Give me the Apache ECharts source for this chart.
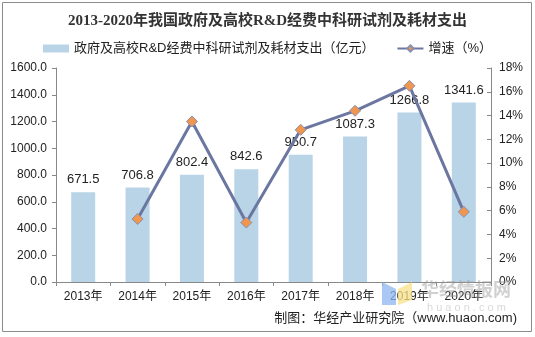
<!DOCTYPE html>
<html><head><meta charset="utf-8">
<script src="https://cdn.jsdelivr.net/npm/echarts@6/dist/echarts.min.js"></script>
<style>html,body{margin:0;padding:0;background:#fff}#c{width:535px;height:337px}</style>
</head><body><div id="c"></div>
<script>
const years = ['2013年','2014年','2015年','2016年','2017年','2018年','2019年','2020年'];
const spending = [671.5, 706.8, 802.4, 842.6, 950.7, 1087.3, 1266.8, 1341.6];
const growth = [null, 5.3, 13.5, 5.0, 12.8, 14.4, 16.5, 5.9];
const barName = '政府及高校R&D经费中科研试剂及耗材支出（亿元）';
const lineName = '增速（%）';
const titleText = '2013-2020年我国政府及高校R&D经费中科研试剂及耗材支出';
const sourceText = '制图：华经产业研究院（www.huaon.com)';

const chart = echarts.init(document.getElementById('c'), null, {renderer:'canvas'});
const axisCol = '#888';
const txt = '#222';
const sans = '"Liberation Sans","Noto Sans CJK SC",sans-serif';
chart.setOption({
  animation:false,
  backgroundColor:'#fff',
  title:{text:titleText,left:'center',top:9,textStyle:{fontFamily:'"Liberation Serif","Noto Sans CJK SC",serif',fontWeight:'bold',fontSize:15,color:'#333'}},
  legend:{top:37,left:'center',itemGap:22,itemWidth:26,itemHeight:8,textStyle:{fontFamily:sans,fontSize:13,color:txt},
    data:[{name:barName,icon:'rect'},{name:lineName}]},
  grid:{left:56,right:44,top:68,bottom:55},
  xAxis:{type:'category',data:years,boundaryGap:true,
    axisLine:{lineStyle:{color:axisCol}},axisTick:{show:true,length:4,lineStyle:{color:axisCol}},
    axisLabel:{fontFamily:sans,fontSize:12,color:txt,margin:9}},
  yAxis:[
    {type:'value',min:0,max:1600,interval:200,splitLine:{show:false},
     axisLine:{show:true,lineStyle:{color:axisCol}},axisTick:{show:true,length:4,lineStyle:{color:axisCol}},
     axisLabel:{fontFamily:sans,fontSize:12,color:txt,margin:9,formatter:v=>v.toFixed(1)}},
    {type:'value',min:0,max:18,interval:2,splitLine:{show:false},
     axisLine:{show:true,lineStyle:{color:axisCol}},axisTick:{show:true,inside:true,length:4,lineStyle:{color:axisCol}},
     axisLabel:{fontFamily:sans,fontSize:12,color:txt,margin:8,formatter:'{value}%'}}
  ],
  series:[
    {name:barName,type:'bar',data:spending,barWidth:24,itemStyle:{color:'#B8D4E6'},
     label:{show:true,position:'top',distance:6,fontFamily:sans,fontSize:13,color:txt,formatter:p=>p.value.toFixed(1)}},
    {name:lineName,type:'line',yAxisIndex:1,data:growth,symbol:'diamond',symbolSize:11,
     lineStyle:{color:'#6B76A1',width:3},itemStyle:{color:'#F0964E',borderColor:'#8A8FAE',borderWidth:1},z:5}
  ],
  graphic:[
    {type:'rect',shape:{x:2.5,y:2.5,width:529,height:329},style:{fill:'none',stroke:'#8c8c8c',lineWidth:1},silent:true},
    {type:'polygon',shape:{points:[[382,282],[396,289],[396,305],[382,305]]},style:{fill:'#8FB4F0',opacity:0.75},z:10},
    {type:'polygon',shape:{points:[[398,289],[412,282],[412,300],[398,305]]},style:{fill:'#F8E08A',opacity:0.75},z:10},
    {type:'text',left:421,top:280,style:{text:'华经情报网',font:'bold 18px "Noto Sans CJK SC"',fill:'rgba(150,150,150,0.45)'},z:10},
    {type:'text',left:427,top:302,style:{text:'h u a o n . c o m',font:'11px "Liberation Sans"',fill:'rgba(170,170,170,0.45)'},z:10},
    {type:'text',right:18,top:312,style:{text:sourceText,font:'13px "Liberation Sans","Noto Sans CJK SC"',fill:txt},z:10}
  ]
});
</script></body></html>
